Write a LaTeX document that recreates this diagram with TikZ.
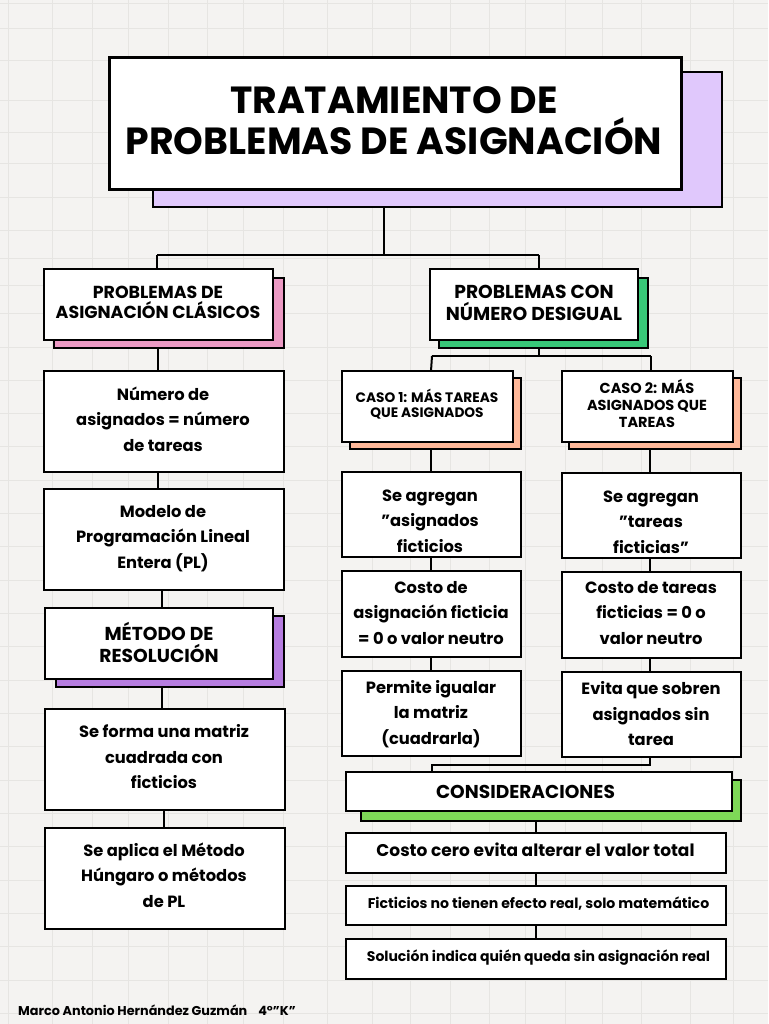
\documentclass[tikz,border=0pt]{standalone}
\usepackage{fontspec}
\setmainfont{Poppins}
\definecolor{paper}{HTML}{F4F3F1}
\definecolor{gridc}{HTML}{E6E5E2}
\definecolor{lilac}{HTML}{E0C8FC}
\definecolor{pinkb}{HTML}{EC9AC4}
\definecolor{greenb}{HTML}{38C878}
\definecolor{peach}{HTML}{FFB899}
\definecolor{violet}{HTML}{B67DE0}
\definecolor{limeb}{HTML}{7ED957}
\tikzset{
  bx/.style={draw=black,fill=white,line width=2pt,inner sep=0pt,outer sep=0pt},
  shadowbx/.style={draw=black,line width=2pt,inner sep=0pt,outer sep=0pt},
  conn/.style={draw=black,line width=2pt},
  body/.style={align=center,inner sep=0pt,font=\fontsize{16.3}{25.5}\selectfont\bfseries},
  head/.style={align=center,inner sep=0pt,font=\fontsize{15}{21}\selectfont\bfseries},
}
% name x1 y1 x2 y2 style
\newcommand{\rbox}[6]{%
  \pgfmathsetmacro{\cxx}{(#2+#4)/2}\pgfmathsetmacro{\cyy}{(#3+#5)/2}%
  \pgfmathsetmacro{\www}{#4-#2}\pgfmathsetmacro{\hhh}{#5-#3}%
  \node[#6,minimum width=\www pt,minimum height=\hhh pt] (#1) at (\cxx,\cyy) {};}
\begin{document}
\begin{tikzpicture}[x=1pt,y=-1pt]
\useasboundingbox (0,0) rectangle (768,1024);
\fill[paper] (0,0) rectangle (768,1024);
\foreach \gx in {8,52,92,128,168,207,243,283,327,372,410,450,489,525,565,602,641,690,733}
  \draw[gridc,line width=.6pt] (\gx,0) -- (\gx,1024);
\foreach \gy in {3,28,60,100,132,163,197,230,258,285,313,347,380,413,446,480,513,546,580,613,646,680,713,746,780,813,846,880,913,946,980,1013}
  \draw[gridc,line width=.6pt] (0,\gy) -- (768,\gy);

% junction points
\coordinate (jtop) at (384,255);
\coordinate (jl) at (157,255);
\coordinate (jr) at (539,255);
\coordinate (jd) at (539,356);
\coordinate (jdl) at (432,356);
\coordinate (jdr) at (651,356);
\coordinate (jc1) at (650,765);
\coordinate (jc2) at (432,765);

% shadows
\rbox{sT}{153}{72}{722}{207}{shadowbx,fill=lilac,line width=2.5pt}
\rbox{sA}{54}{278}{284}{348}{shadowbx,fill=pinkb}
\rbox{sB}{439}{278}{648}{348}{shadowbx,fill=greenb}
\rbox{sM}{56}{616}{284}{687}{shadowbx,fill=violet}
\rbox{sC1}{350}{378}{521}{449}{shadowbx,fill=peach}
\rbox{sC2}{569}{378}{741}{449}{shadowbx,fill=peach}
\rbox{sK}{361}{780}{741}{821}{shadowbx,fill=limeb,line width=2.5pt}

% connectors
\draw[conn] (jtop |- sT.south) -- (jtop);
\draw[conn] (jl) -- (jr);
\draw[conn] (jl) -- (157,269);
\draw[conn] (jr) -- (539,269);
\draw[conn] (158,348) -- (158,371);
\draw[conn] (158,472) -- (158,489);
\draw[conn] (162,590) -- (162,608);
\draw[conn] (162,687) -- (162,709);
\draw[conn] (164,810) -- (164,828);
\draw[conn] (jr |- sB.south) -- (jd);
\draw[conn] (jdl) -- (jdr);
\draw[conn] (jdl) -- (431,371);
\draw[conn] (jdr) -- (651,371);
\draw[conn] (431,449) -- (431,671);
\draw[conn] (650,449) -- (650,672);
\draw[conn] (650,757) -- (jc1) -- (jc2) -- (432,772);
\draw[conn] (536,821) -- (536,939);

% boxes
\rbox{T}{109}{58}{681}{190}{bx,line width=3pt}
\rbox{A}{44}{269}{273}{340}{bx}
\rbox{B}{430}{269}{638}{340}{bx}
\rbox{A1}{44}{371}{284}{472}{bx}
\rbox{A2}{44}{489}{284}{590}{bx}
\rbox{M}{45}{608}{273}{679}{bx}
\rbox{M1}{45}{709}{285}{810}{bx}
\rbox{M2}{45}{828}{285}{929}{bx}
\rbox{C1}{342}{371}{513}{442}{bx}
\rbox{C2}{562}{371}{733}{442}{bx}
\rbox{L1}{342}{472}{521}{557}{bx}
\rbox{L2}{342}{571}{521}{657}{bx}
\rbox{L3}{342}{671}{521}{756}{bx}
\rbox{R1}{562}{473}{741}{558}{bx}
\rbox{R2}{562}{572}{741}{658}{bx}
\rbox{R3}{562}{672}{741}{757}{bx}
\rbox{K}{346}{772}{732}{811}{bx}
\rbox{K1}{346}{833}{726}{873}{bx}
\rbox{K2}{346}{886}{726}{925}{bx}
\rbox{K3}{346}{939}{726}{979}{bx}

% texts
\node[align=center,inner sep=0pt,font=\fontsize{37.8}{41}\selectfont\bfseries] (tT) at (394,121) {TRATAMIENTO DE\\PROBLEMAS DE ASIGNACIÓN};
\node[head,font=\fontsize{17.4}{20}\selectfont\bfseries] (tA) at (158,302.5) {PROBLEMAS DE\\ASIGNACIÓN CLÁSICOS};
\node[head,font=\fontsize{18.7}{22}\selectfont\bfseries] (tB) at (534,303) {PROBLEMAS CON\\NÚMERO DESIGUAL};
\node[head,font=\fontsize{18.7}{22}\selectfont\bfseries] (tM) at (159,642) {MÉTODO DE\\RESOLUCIÓN};
\node[head,font=\fontsize{13.7}{15.5}\selectfont\bfseries] (tC1) at (427,404) {CASO 1: MÁS TAREAS\\QUE ASIGNADOS};
\node[head,font=\fontsize{14.5}{17}\selectfont\bfseries] (tC2) at (647,403) {CASO 2: MÁS\\ASIGNADOS QUE\\TAREAS};
\node[body] (tA1) at (163,419) {Número de\\asignados = número\\de tareas};
\node[body] (tA2) at (163,538.5) {Modelo de\\Programación Lineal\\Entera (PL)};
\node[body] (tM1) at (164,757) {Se forma una matriz\\cuadrada con\\ficticios};
\node[body] (tM2) at (164,875) {Se aplica el Método\\Húngaro o métodos\\de PL};
\node[body] (tL1) at (430,521) {Se agregan\\"asignados\\ficticios};
\node[body] (tL2) at (431,613) {Costo de\\asignación ficticia\\= 0 o valor neutro};
\node[body] (tL3) at (431,714) {Permite igualar\\la matriz\\(cuadrarla)};
\node[body] (tR1) at (651,522) {Se agregan\\"tareas\\ficticias"};
\node[body] (tR2) at (651,613) {Costo de tareas\\ficticias = 0 o\\valor neutro};
\node[body] (tR3) at (651,714) {Evita que sobren\\asignados sin\\tarea};
\node[head,font=\fontsize{18.6}{20}\selectfont\bfseries] (tK) at (525.5,792) {CONSIDERACIONES};
\node[body,font=\fontsize{17}{20}\selectfont\bfseries] (tK1) at (535.5,849.5) {Costo cero evita alterar el valor total};
\node[body,font=\fontsize{14.1}{20}\selectfont\bfseries] (tK2) at (538.5,903.5) {Ficticios no tienen efecto real, solo matemático};
\node[body,font=\fontsize{14}{20}\selectfont\bfseries] (tK3) at (538.5,958) {Solución indica quién queda sin asignación real};
\node[anchor=west,inner sep=0pt,font=\fontsize{12.8}{14}\selectfont\bfseries] (foot) at (18,1010) {Marco Antonio Hernández Guzmán\hspace{11pt}4°"K"};
\end{tikzpicture}
\end{document}
